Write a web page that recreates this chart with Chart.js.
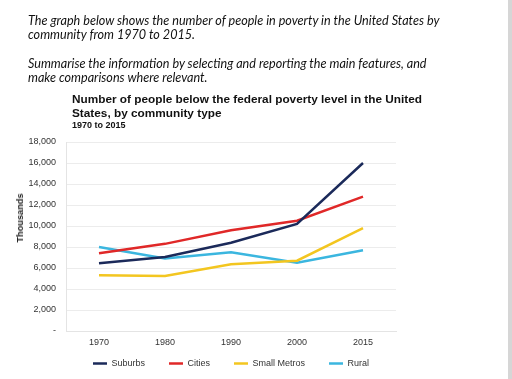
<!DOCTYPE html>
<html>
<head>
<meta charset="utf-8">
<script src="https://cdn.jsdelivr.net/npm/chart.js@4/dist/chart.umd.min.js"></script>
<style>
  html, body { margin: 0; padding: 0; background: #fff; }
  body { width: 512px; height: 379px; position: relative; overflow: hidden; }
  #wrap { position: absolute; left: 0; top: 0; width: 512px; height: 379px; }
  .prompt { position: absolute; left: 28px; font-family: Lato, "Open Sans", sans-serif; font-style: italic; font-size: 14px; color: #111; white-space: nowrap; line-height: 14px; transform: scaleX(0.9); transform-origin: 0 0; }
  .ctitle { position: absolute; left: 72px; font-family: "Liberation Sans", Arial, sans-serif; font-weight: bold; color: #111; white-space: nowrap; }
  #ytitle { position: absolute; left: 20px; top: 218px; font-family: "Liberation Sans", Arial, sans-serif; font-weight: bold; font-size: 9.2px; color: #222; white-space: nowrap; transform: translate(-50%, -50%) rotate(-90deg); }
  #edge { position: absolute; right: 0; top: 0; width: 4px; height: 379px; background: #d6d6d6; }
</style>
</head>
<body>
<div id="wrap"><canvas id="c" width="512" height="379"></canvas></div>
<div class="prompt" style="top:13px">The graph below shows the number of people in poverty in the United States by</div>
<div class="prompt" style="top:27px">community from 1970 to 2015.</div>
<div class="prompt" style="top:56px">Summarise the information by selecting and reporting the main features, and</div>
<div class="prompt" style="top:70px">make comparisons where relevant.</div>
<div class="ctitle" style="top:92px;font-size:11.8px;line-height:14px">Number of people below the federal poverty level in the United<br>States, by community type</div>
<div class="ctitle" style="top:120px;font-size:9px">1970 to 2015</div>
<div id="ytitle">Thousands</div>
<div id="edge"></div>
<script>
const categories = ["1970", "1980", "1990", "2000", "2015"];
const seriesNames = ["Suburbs", "Cities", "Small Metros", "Rural"];
const suburbs = [6450, 7050, 8400, 10200, 16000];
const cities = [7400, 8300, 9600, 10500, 12800];
const smallMetros = [5300, 5250, 6350, 6700, 9800];
const rural = [8000, 6900, 7500, 6500, 7700];
const yTicks = [0, 2000, 4000, 6000, 8000, 10000, 12000, 14000, 16000, 18000];

const colors = ["#1b2a5a", "#e02828", "#f3c620", "#3bb6df"];
const values = [suburbs, cities, smallMetros, rural];

const legendShift = {
  id: "legendShift",
  afterLayout(chart) {
    const lg = chart.legend;
    if (lg) { lg.top -= 12; lg.bottom -= 12; }
  }
};

new Chart(document.getElementById("c"), {
  type: "line",
  data: {
    labels: categories,
    datasets: seriesNames.map((n, i) => ({
      label: n,
      data: values[i],
      borderColor: colors[i],
      backgroundColor: colors[i],
      borderWidth: 2.5,
      pointRadius: 0,
      tension: 0,
      fill: false
    }))
  },
  plugins: [legendShift],
  options: {
    responsive: false,
    animation: false,
    layout: { padding: { left: 10, right: 116, top: 142, bottom: 0 } },
    plugins: {
      tooltip: { enabled: false },
      title: { display: false },
      legend: {
        position: "bottom",
        fullSize: false,
        maxHeight: 32,
        labels: {
          usePointStyle: true,
          pointStyle: "line",
          pointStyleWidth: 14,
          boxHeight: 9,
          padding: 24,
          color: "#333",
          font: { family: "'Liberation Sans', Arial, sans-serif", size: 9 }
        }
      }
    },
    scales: {
      x: {
        offset: true,
        afterFit: (s) => { s.height = 16; },
        grid: { display: false, drawTicks: false },
        border: { color: "#e4e4e4" },
        ticks: { color: "#333", padding: 6, font: { family: "'Liberation Sans', Arial, sans-serif", size: 9 } }
      },
      y: {
        min: 0,
        max: 18000,
        afterFit: (s) => { s.width = 56; },
        afterBuildTicks: (s) => { s.ticks = yTicks.map(v => ({ value: v })); },
        grid: { color: "#ececec", drawTicks: false },
        border: { color: "#e4e4e4" },
        ticks: {
          color: "#333",
          padding: 10,
          font: { family: "'Liberation Sans', Arial, sans-serif", size: 9 },
          callback: (v) => v === 0 ? "-" : v.toLocaleString("en-US")
        }
      }
    }
  }
});
</script>
</body>
</html>
